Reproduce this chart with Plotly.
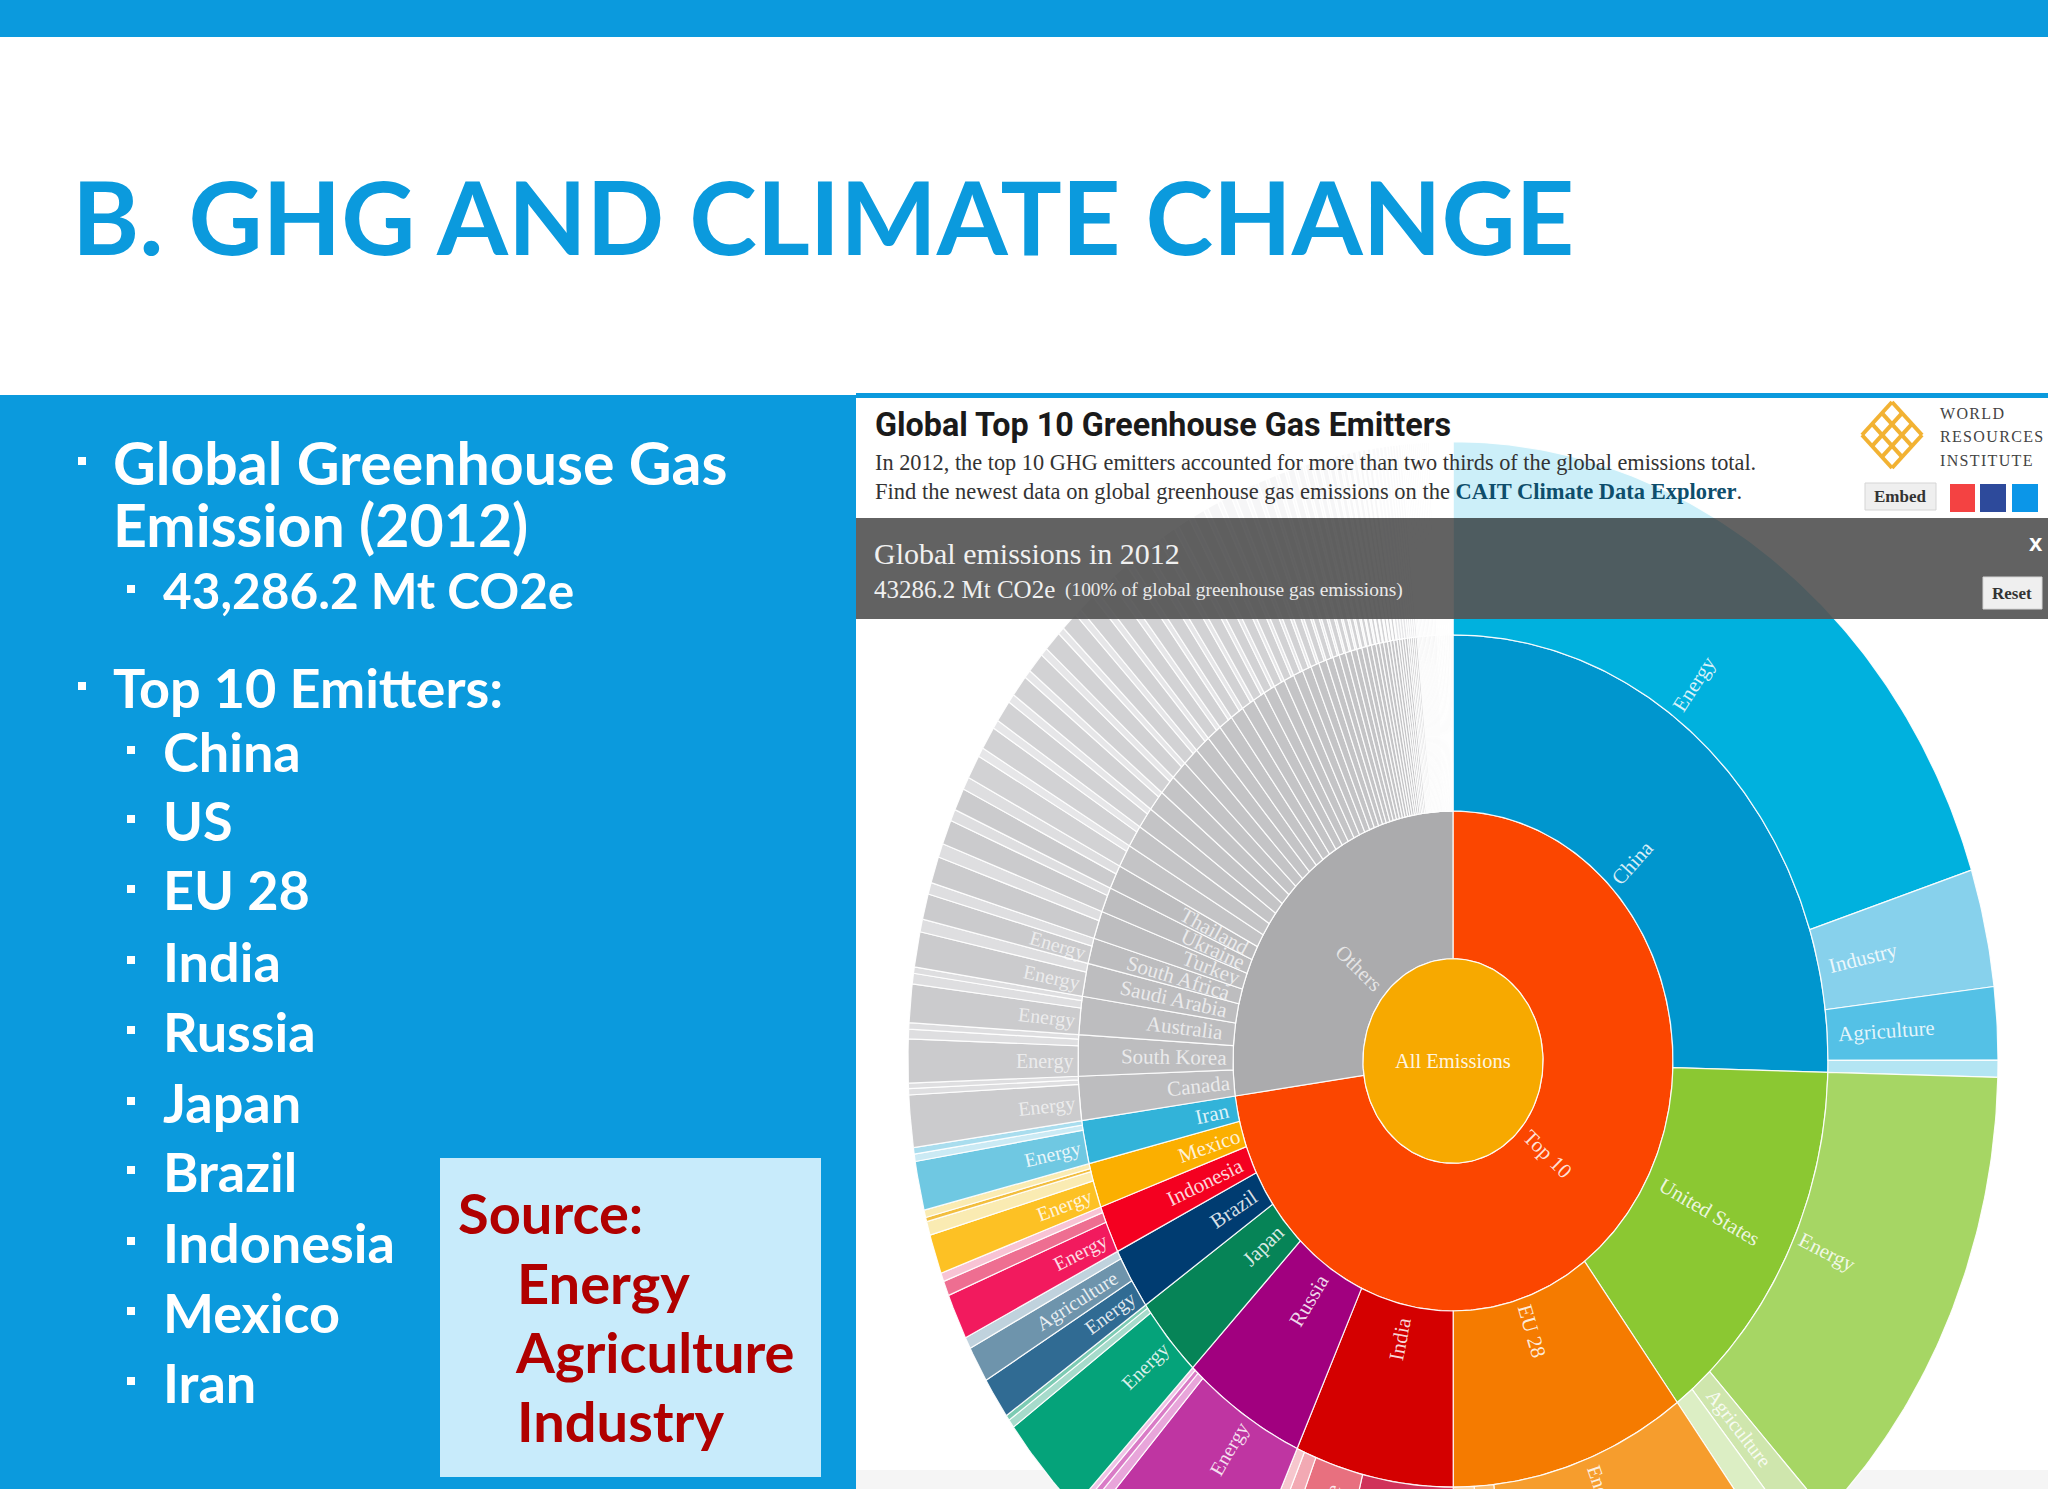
import numpy as np
import plotly.graph_objects as go

W, H = 2048, 1489
BLUE = "#0B9ADD"
SERIF = "Liberation Serif"
SLIDE = "Lato"

# emissions in Mt CO2e
countries = ["China", "United States", "EU 28", "India", "Russia", "Japan", "Brazil",
             "Indonesia", "Mexico", "Iran"]
country_mt = [11006, 6224, 4413, 2958, 2333, 1335, 1010, 782, 733, 709]
country_colors = ["#0096CE", "#8BC832", "#F57B00", "#D40000", "#A1007F", "#068457",
                  "#003C71", "#F40020", "#FBAF00", "#32B3D9"]

sector_mt = [
    [8633, 1323, 818, 192],
    [5483, 433, 349],
    [3667, 361, 385],
    [1683, 902, 228, 145],
    [2080, 120, 72, 61],
    [1178, 96, 61],
    [469, 409, 132],
    [517, 168, 97],
    [445, 156, 48, 84],
    [553, 84, 72],
]
sector_colors = [
    ["#00B1DE", "#87D1EC", "#54C1E6", "#B3E5F3"],
    ["#A6D664", "#CFE6AD", "#DCEEC4"],
    ["#F69D2D", "#F9BD73", "#FBD3A3"],
    ["#D0325A", "#E8707F", "#F2A9B3", "#F6C6CD"],
    ["#BF35A2", "#E8A5DA", "#D97BC6", "#EFC2E6"],
    ["#05A37A", "#A6DBCB", "#7CCBB3"],
    ["#306B93", "#6E94AC", "#C0D2DD"],
    ["#F21A5E", "#EE6E91", "#F8C3D4"],
    ["#FDC124", "#FAEBB2", "#F2BE3E", "#FAEBB2"],
    ["#6FC8E2", "#CBEAF4", "#A9DDEE"],
]

named_others = ["Canada", "South Korea", "Australia", "Saudi Arabia", "South Africa",
                "Turkey", "Ukraine", "Thailand"]
named_others_mt = [721, 673, 625, 541, 421, 457, 409, 397]
named_others_sectors = [[589, 72, 60], [493, 108, 72], [433, 120, 72], [397, 144],
                        [289, 132], [300, 157], [277, 132], [253, 144]]

# the unnamed small emitters, most of them too thin to carry a label
rest_mt = [373, 361, 349, 337, 325, 313, 301, 289, 277, 265, 253, 240, 228, 216, 204, 192,
           180, 168, 156, 144, 132, 120, 120, 108, 108, 96, 96, 84, 84, 72, 72, 72, 60, 60,
           60, 48, 48, 48, 48, 36, 36, 36, 36, 36, 24, 24, 24, 24, 24, 24, 24, 24, 24, 24,
           24, 24, 24, 24, 24, 12, 12, 12, 12, 12, 12, 12, 12, 12, 12, 12, 12, 12, 12, 12,
           12, 12, 12, 12, 12, 12, 12, 12, 12, 12]
rest_energy = [270, 262, 250, 245, 232, 228, 215, 210, 198, 195, 180, 175, 165, 155, 148,
               140, 130, 120, 112, 105, 95, 86, 88, 78, 76, 68, 70, 60, 58, 50, 52, 50, 42,
               42, 44]

emitter_list = ["China", "US", "EU 28", "India", "Russia", "Japan", "Brazil", "Indonesia",
                "Mexico", "Iran"]
source_list = ["Energy", "Agriculture", "Industry"]

# ring edges in px along x, the picture is squeezed so y is stretched by 1/0.88
RINGS = [90, 220, 375, 545]
SQUEEZE = 0.88
CX, CY = 1453, 1061

total = sum(country_mt) + sum(named_others_mt) + sum(rest_mt)
deg = 360.0 / total

fig = go.Figure()


def wedge(r0, r1, a0, a1, color):
    n = max(2, int((a1 - a0) * 1.5) + 2)
    t = np.radians(np.linspace(a0, a1, n))
    xs = np.concatenate([r1 * np.sin(t), r0 * np.sin(t[::-1])])
    ys = np.concatenate([r1 * np.cos(t), r0 * np.cos(t[::-1])])
    fig.add_trace(go.Scatter(x=np.append(xs, xs[0]), y=np.append(ys, ys[0]), mode="lines",
                             fill="toself", fillcolor=color,
                             line=dict(color="rgba(255,255,255,0.9)", width=1.2),
                             hoverinfo="skip", showlegend=False))


def disc(r, color):
    t = np.radians(np.linspace(0, 360, 181))
    fig.add_trace(go.Scatter(x=r * np.sin(t), y=r * np.cos(t), mode="lines", fill="toself",
                             fillcolor=color, line=dict(color="rgba(255,255,255,0.9)", width=1.2),
                             hoverinfo="skip", showlegend=False))


def px(x):
    return x / W


def py(y):
    return 1 - y / H


def label(x, y, text, size, color, family=SERIF, anchor="left", weight=400, angle=0):
    fig.add_annotation(x=px(x), y=py(y), xref="paper", yref="paper", text=text, showarrow=False,
                       xanchor=anchor, yanchor="middle", textangle=angle,
                       font=dict(size=size, color=color, family=family, weight=weight))


def ring_label(text, ring, a0, a1, size=21, color="rgba(255,255,255,0.85)"):
    # text starts at the inner edge of the ring and runs along the radius
    mid = np.radians((a0 + a1) / 2)
    half = 0.23 * size * len(text)
    r = RINGS[ring] + 6 + half
    sx, sy = np.sin(mid), np.cos(mid) / SQUEEZE
    x, y = CX + r * sx, CY - r * sy
    rot = np.degrees(np.arctan2(-sy, sx))
    if sx < 0:
        rot += 180
    label(x, y, text, size, color, anchor="center", angle=rot)


def sector_ring(parts, colors, a0, width):
    scale = width / sum(parts)
    a = a0
    edges = []
    for v, c in zip(parts, colors):
        wedge(RINGS[2], RINGS[3], a, a + v * scale, c)
        edges.append((a, a + v * scale))
        a += v * scale
    return edges


# centre and first ring
top10_end = sum(country_mt) * deg
wedge(RINGS[0], RINGS[1], 0, top10_end, "#FB4600")
wedge(RINGS[0], RINGS[1], top10_end, 360, "#ABABAD")
disc(RINGS[0], "#F7A900")
ring_label("Top 10", 0, 0, top10_end)
ring_label("Others", 0, top10_end, 360, color="rgba(255,255,255,0.7)")

# top 10 countries and their sectors
a = 0
for i, name in enumerate(countries):
    w = country_mt[i] * deg
    wedge(RINGS[1], RINGS[2], a, a + w, country_colors[i])
    ring_label(name, 1, a, a + w)
    edges = sector_ring(sector_mt[i], sector_colors[i], a, w)
    if name == "China":
        ring_label("Energy", 2, *edges[0])
        ring_label("Industry", 2, *edges[1])
        ring_label("Agriculture", 2, *edges[2])
    elif name == "United States":
        ring_label("Energy", 2, *edges[0])
        ring_label("Agriculture", 2, *edges[1], size=20)
    elif name == "Brazil":
        ring_label("Energy", 2, *edges[0], size=20)
        ring_label("Agriculture", 2, *edges[1], size=20)
    elif name == "India":
        ring_label("Agriculture", 2, *edges[1])
    else:
        ring_label("Energy", 2, *edges[0], size=20)
    a += w

# named others
for i, name in enumerate(named_others):
    w = named_others_mt[i] * deg
    wedge(RINGS[1], RINGS[2], a, a + w, "#BDBDBF")
    ring_label(name, 1, a, a + w, color="rgba(255,255,255,0.7)")
    colors = ["#CBCBCD"] + ["#DEDEE0"] * 2
    edges = sector_ring(named_others_sectors[i], colors, a, w)
    if i < 5:
        ring_label("Energy", 2, *edges[0], size=20, color="rgba(255,255,255,0.65)")
    a += w

# small emitters up to 12 o'clock
for i, v in enumerate(rest_mt):
    w = v * deg
    wedge(RINGS[1], RINGS[2], a, a + w, "#C4C4C6")
    if i < len(rest_energy):
        sector_ring([rest_energy[i], v - rest_energy[i]], ["#D2D2D4", "#E6E6E8"], a, w)
    else:
        wedge(RINGS[2], RINGS[3], a, a + w, "#E6E6E8")
    a += w

fig.add_annotation(x=0, y=0, xref="x", yref="y", text="All Emissions", showarrow=False,
                   font=dict(size=20.5, color="rgba(255,255,255,0.9)", family=SERIF))


def rect(x0, y0, x1, y1, color, layer="below", line=None):
    fig.add_shape(type="rect", xref="paper", yref="paper", x0=px(x0), x1=px(x1), y0=py(y0),
                  y1=py(y1), fillcolor=color, layer=layer,
                  line=dict(width=1 if line else 0, color=line or color))


# slide furniture
rect(0, 0, W, 37, BLUE)
rect(0, 395, 856, H, BLUE)
rect(856, 393, W, 398, BLUE)
rect(440, 1158, 821, 1477, "#C8EBFB")
rect(856, 1470, W, H, "rgba(0,0,0,0.04)")

label(70, 216, "B. GHG AND CLIMATE CHANGE", 102.2, BLUE, SLIDE, weight=700)

for x, y, text, size in [(111, 463, "Global Greenhouse Gas", 59),
                         (111, 524, "Emission (2012)", 59),
                         (161, 590, "43,286.2 Mt CO2e", 49.5),
                         (111, 687, "Top 10 Emitters:", 54)]:
    label(x, y, text, size, "white", SLIDE, weight=700)
for x, y in [(82, 461), (131, 589), (82, 686)]:
    rect(x - 4, y - 4, x + 4, y + 4, "white")

list_y = [751, 820, 890, 961, 1031, 1102, 1171, 1242, 1312, 1382]
for name, y in zip(emitter_list, list_y):
    label(161, y, name, 54, "white", SLIDE, weight=700)
    rect(127, y - 5, 135, y + 3, "white")

label(456, 1212, "Source:", 56, "#B00000", SLIDE, weight=700)
for name, x, y in zip(source_list, [515, 513, 515], [1282, 1351, 1420]):
    label(x, y, name, 56, "#B00000", SLIDE, weight=700)

# widget header sits on top of the wheel, slightly see-through
rect(856, 398, W, 518, "rgba(255,255,255,0.8)", layer="above")
rect(856, 518, W, 619, "rgba(85,85,85,0.92)", layer="above")

label(873, 425, "Global Top 10 Greenhouse Gas Emitters", 32.3, "#1a1a1a", "Roboto", weight=700)
label(873, 463, "In 2012, the top 10 GHG emitters accounted for more than two thirds of the global emissions total.",
      22.3, "#333333")
label(873, 492, "Find the newest data on global greenhouse gas emissions on the "
      "<b><span style='color:#0E4E6C'>CAIT Climate Data Explorer</span></b>.", 22.5, "#333333")
label(872, 553, "Global emissions in 2012", 30, "#F0F0F0")
label(872, 589, "43286.2 Mt CO2e", 25, "#F0F0F0")
label(1063, 590, "(100% of global greenhouse gas emissions)", 19.4, "#EAEAEA")
label(2036, 543, "x", 24, "white", "Liberation Sans", anchor="center", weight=700)

# WRI logo, a lattice folded into a diamond
for t in (-1, -0.33, 0.33, 1):
    for flip in (1, -1):
        u0, v0, u1, v1 = (t, -1, t, 1) if flip == 1 else (-1, t, 1, t)
        fig.add_shape(type="line", xref="paper", yref="paper",
                      x0=px(1892 + 30 * (u0 + v0) / 2), y0=py(435 + 33 * (v0 - u0) / 2),
                      x1=px(1892 + 30 * (u1 + v1) / 2), y1=py(435 + 33 * (v1 - u1) / 2),
                      line=dict(color="#F2B233", width=4), layer="above")
for text, y in zip(["WORLD", "RESOURCES", "INSTITUTE"], [413, 437, 461]):
    label(1938, y, "\u200a".join(text), 16, "#444444")

rect(1865, 483, 1936, 510, "#EFEFEF", layer="above", line="#D5D5D5")
label(1900, 496, "Embed", 17, "#333333", anchor="center", weight=700)
rect(1950, 484, 1975, 512, "#F44242", layer="above")
rect(1980, 484, 2006, 512, "#2D4A9B", layer="above")
rect(2012, 484, 2038, 512, "#0B96E8", layer="above")
rect(1983, 577, 2042, 609, "#EFEFEF", layer="above", line="#D5D5D5")
label(2012, 593, "Reset", 17, "#333333", anchor="center", weight=700)

fig.update_xaxes(range=[-CX, W - CX], visible=False, fixedrange=True)
fig.update_yaxes(range=[-(H - CY) * SQUEEZE, CY * SQUEEZE], visible=False, fixedrange=True)
fig.update_layout(width=W, height=H, margin=dict(l=0, r=0, t=0, b=0), paper_bgcolor="white",
                  plot_bgcolor="rgba(0,0,0,0)", showlegend=False)

# page margin would push the slide 8px off the window
fig.write_html("out.html", config={"displayModeBar": False},
               post_script="document.body.style.margin='0';")
